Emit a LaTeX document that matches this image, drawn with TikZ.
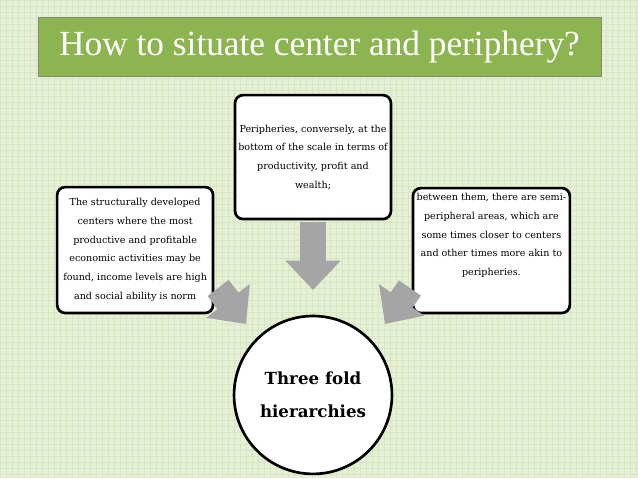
\documentclass[tikz,border=0pt]{standalone}
\usepackage{fontspec}
\setmainfont{DejaVu Serif}
\newfontfamily\titlefont{Liberation Serif}
\usetikzlibrary{arrows.meta}
\definecolor{bgc}{RGB}{230,240,214}
\definecolor{gridc}{RGB}{215,230,192}
\definecolor{titlec}{RGB}{140,180,80}
\definecolor{arrc}{RGB}{165,165,165}
\tikzset{
  textbox/.style={draw=black, line width=2pt, rounded corners=6pt, fill=white, align=center,
    font=\fontsize{7.2}{14}\selectfont, inner sep=2pt},
  blk/.style={arrc, line width=20pt, -{Triangle[width=40pt,length=22pt]}}
}
\begin{document}
\begin{tikzpicture}[x=0.75pt,y=-0.75pt]
\fill[bgc] (0,0) rectangle (638,478);
\foreach \i in {0,6,...,638} \draw[gridc,line width=0.3pt] (\i,0)--(\i,478);
\foreach \j in {0,6,...,478} \draw[gridc,line width=0.3pt] (0,\j)--(638,\j);
\node[draw=gridc!60!black, fill=titlec, minimum width=563*0.75pt, minimum height=59*0.75pt, inner sep=0pt,
  text=white, font=\titlefont\fontsize{26.5}{28}\selectfont] (title) at (319.5,46.5) {How to situate center and periphery?};
\node[textbox, minimum width=156*0.75pt, minimum height=126*0.75pt] (left) at (135,250)
 {The structurally developed\\centers where the most\\productive and profitable\\economic activities may be\\found, income levels are high\\and social ability is norm};
\node[textbox, minimum width=156*0.75pt, minimum height=124*0.75pt] (mid) at (313,157)
 {Peripheries, conversely, at the\\bottom of the scale in terms of\\productivity, profit and\\wealth;};
\node[textbox, minimum width=157*0.75pt, minimum height=125*0.75pt] (right) at (491.5,250.5)
 {between them, there are semi-\\peripheral areas, which are\\some times closer to centers\\and other times more akin to\\peripheries.\\[10pt]};
\coordinate (ms) at (313,222); \coordinate (me) at (313,290);
\coordinate (ls) at (218,288); \coordinate (le) at (246,324);
\coordinate (rs) at (410,288); \coordinate (re) at (385,324);
\draw[blk] (ms)--(me);
\draw[blk] (ls)--(le);
\draw[blk] (rs)--(re);
\node[circle, draw=black, line width=2pt, fill=white, minimum size=158*0.75pt, align=center,
  font=\bfseries\fontsize{12.5}{25}\selectfont] (c) at (313,395) {Three fold\\hierarchies};
\end{tikzpicture}
\end{document}
